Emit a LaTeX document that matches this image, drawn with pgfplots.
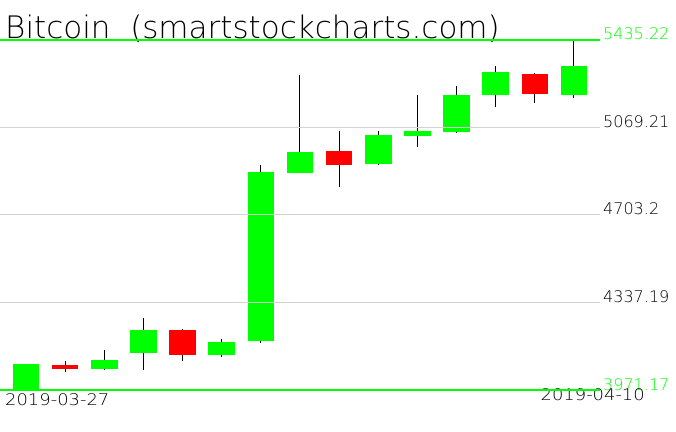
\documentclass[border=0pt]{standalone}
\usepackage{pgfplots}
\pgfplotsset{compat=1.18}
\usepackage{pgfplotstable}
\usepackage{fontspec}
\setmainfont{DejaVu Sans ExtraLight}
\newfontfamily\datefont[FakeStretch=1.12]{DejaVu Sans ExtraLight}
\definecolor{cgreen}{RGB}{0,255,0}
\definecolor{cred}{RGB}{255,0,0}
\definecolor{cgrid}{RGB}{211,211,211}

% green (rising) candles: x open high low close
\pgfplotstableread{
x o h l c
0 3971.17 4081.0 3971.17 4079.9
2 4059.0 4138.5 4055.0 4096.7
3 4127.2 4272.4 4054.9 4222.2
5 4117.6 4184.5 4109.2 4171.9
6 4176.1 4912.3 4169.0 4883.0
7 4878.9 5287.5 4877.0 4966.7
9 4916.5 5054.6 4913.6 5037.8
10 5034.9 5205.2 4986.4 5054.6
11 5051.6 5242.8 5047.4 5205.2
12 5205.2 5327.7 5153.7 5301.4
14 5205.2 5435.22 5193.9 5326.5
}\up
% red (falling) candles
\pgfplotstableread{
x o h l c
1 4075.8 4092.5 4046.5 4059.0
4 4222.2 4226.4 4092.5 4117.6
8 4970.9 5054.6 4821.6 4912.3
13 5293.0 5298.4 5173.0 5209.3
}\down

\begin{document}
\begin{tikzpicture}
\path[use as bounding box] (0pt,-41pt) rectangle (676pt,390pt);
\begin{axis}[
  at={(0pt,0pt)}, anchor=south west,
  scale only axis, width=600pt, height=350pt,
  xmin=-0.664, xmax=14.665, ymin=3971.17, ymax=5435.22,
  axis line style={draw=none},
  every outer x axis line/.style={draw=none},
  every outer y axis line/.style={draw=none},
  xtick=\empty,
  ytick={4337.19,4703.2,5069.21},
  yticklabels={4337.19,4703.2,5069.21},
  extra y ticks={3971.17,5435.22},
  extra y tick labels={3971.17,5435.22},
  extra y tick style={grid style={draw=cgreen, line width=1pt}, yticklabel style={text=cgreen}},
  ymajorgrids, grid style={draw=cgrid, line width=1pt},
  major tick length=0pt,
  yticklabel pos=right,
  yticklabel style={anchor=base west, inner sep=0pt, xshift=3pt, font=\fontsize{16}{16}\selectfont},
  axis on top,
  clip=false,
]
% wicks
\addplot[draw=none, mark=none, forget plot, error bars/.cd, y dir=plus, y explicit, error mark=none,
  error bar style={draw=black, line width=1pt}]
  table[x=x, y=l, y error plus expr=\thisrow{h}-\thisrow{l}] {\up};
\addplot[draw=none, mark=none, forget plot, error bars/.cd, y dir=plus, y explicit, error mark=none,
  error bar style={draw=black, line width=1pt}]
  table[x=x, y=l, y error plus expr=\thisrow{h}-\thisrow{l}] {\down};
% bodies
\addplot[draw=none, mark=none, forget plot, error bars/.cd, y dir=plus, y explicit, error mark=none,
  error bar style={draw=cgreen, line width=26.5pt}]
  table[x=x, y=o, y error plus expr=\thisrow{c}-\thisrow{o}] {\up};
\addplot[draw=none, mark=none, forget plot, error bars/.cd, y dir=plus, y explicit, error mark=none,
  error bar style={draw=cred, line width=26.5pt}]
  table[x=x, y=c, y error plus expr=\thisrow{o}-\thisrow{c}] {\down};
\end{axis}
\node[anchor=base west, inner sep=0pt, font=\fontsize{31}{31}\selectfont] at (5pt,351pt) {Bitcoin\ \ (smartstockcharts.com)};
\node[anchor=base west, inner sep=0pt, font=\datefont\fontsize{16}{16}\selectfont] at (5pt,-15pt) {2019-03-27};
\node[anchor=base east, inner sep=0pt, font=\datefont\fontsize{16}{16}\selectfont] at (645pt,-10.7pt) {2019-04-10};
\fill[cgreen] (0pt,349.4pt) rectangle (600pt,350.6pt);
\fill[cgreen] (0pt,-0.6pt) rectangle (600pt,0.6pt);
\end{tikzpicture}
\end{document}
